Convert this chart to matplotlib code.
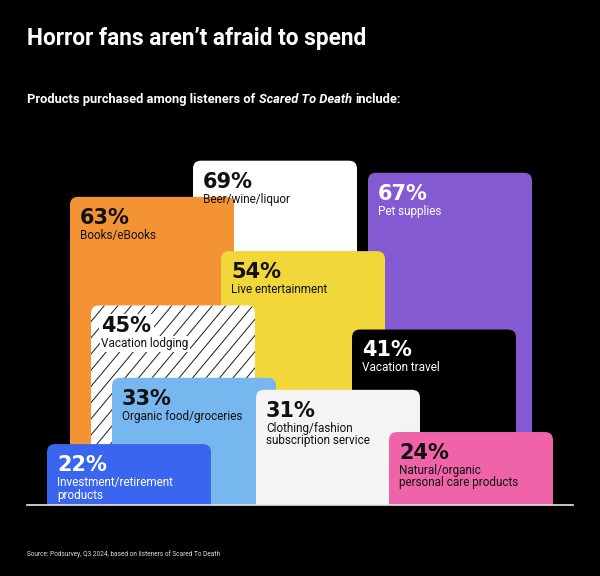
import matplotlib
matplotlib.use("Agg")
import matplotlib.pyplot as plt
from matplotlib.patches import FancyBboxPatch
from matplotlib import font_manager as fm

# ---------------- data ----------------
categories = [
    "Beer/wine/liquor",
    "Pet supplies",
    "Books/eBooks",
    "Live entertainment",
    "Vacation lodging",
    "Vacation travel",
    "Organic food/groceries",
    "Clothing/fashion\nsubscription service",
    "Natural/organic\npersonal care products",
    "Investment/retirement\nproducts",
]
values = [69, 67, 63, 54, 45, 41, 33, 31, 24, 22]

title = "Horror fans aren\u2019t afraid to spend"
subtitle_parts = ["Products purchased among listeners of", "Scared To Death", "include:"]
source = "Source: Podsurvey, Q3 2024, based on listeners of Scared To Death"

# ---------------- style / layout ----------------
fill_colors = ["#ffffff", "#845ad2", "#f39333", "#f2d73a", "#ffffff",
               "#000000", "#77b7ef", "#f4f4f4", "#ef64a9", "#3a66ef"]
text_colors = ["#111111", "#ffffff", "#111111", "#111111", "#111111",
               "#ffffff", "#111111", "#111111", "#111111", "#ffffff"]
hatched = [False, False, False, False, True, False, False, False, False, False]
box_left_px = [193, 368, 70, 221, 91, 352, 112, 256, 389, 47]
BOX_W = 164
RADIUS = 8

W, H, DPI = 600, 576, 100
BASE_PX = 505          # baseline (y from top, px)
TOP_PX = 150           # top of plotting region
Y0 = 11.9              # value sitting on the baseline (truncated axis)
PX_PER_PCT = 6.03
Y1 = Y0 + (BASE_PX - TOP_PX) / PX_PER_PCT

names = {f.name for f in fm.fontManager.ttflist}
narrow = "Liberation Sans Narrow" if "Liberation Sans Narrow" in names else "Roboto"
body = "Roboto" if "Roboto" in names else "DejaVu Sans"
pct_font = "DejaVu Sans"

fig = plt.figure(figsize=(W / DPI, H / DPI), dpi=DPI, facecolor="black")
ax = fig.add_axes([0, (H - BASE_PX) / H, 1, (BASE_PX - TOP_PX) / H])
ax.set_xlim(0, W)
ax.set_ylim(Y0, Y1)
ax.axis("off")

order = sorted(range(len(values)), key=lambda k: -values[k])
for rank, i in enumerate(order):
    z = 2 + rank * 2
    left = box_left_px[i]
    top = values[i]
    patch = FancyBboxPatch((left, 0), BOX_W, top,
                           boxstyle=f"round,pad=0,rounding_size={RADIUS}",
                           mutation_aspect=1 / PX_PER_PCT,
                           facecolor=fill_colors[i], edgecolor="none", zorder=z)
    ax.add_patch(patch)
    bbox = None
    if hatched[i]:
        h_px = (top - Y0) * PX_PER_PCT
        slope = 1.2
        step = 13.5
        x = left - h_px / slope
        while x < left + BOX_W:
            ln, = ax.plot([x, x + h_px / slope], [Y0, top], color="#1a1a1a",
                          lw=0.7, zorder=z + 0.1, solid_capstyle="butt")
            ln.set_clip_path(patch)
            x += step
        bbox = dict(boxstyle="square,pad=0.12", fc=fill_colors[i], ec="none")
    ax.annotate(f"{values[i]}%", xy=(left, top), xytext=(7.2, -19.4),
                textcoords="offset points", ha="left", va="baseline",
                fontsize=15, fontweight="bold", family=pct_font,
                color=text_colors[i], zorder=100, bbox=bbox)
    for j, line in enumerate(categories[i].split("\n")):
        ax.annotate(line, xy=(left, top), xytext=(7.2, -30.2 - 9.0 * j),
                    textcoords="offset points", ha="left", va="baseline",
                    fontsize=8.5, family=body, color=text_colors[i],
                    zorder=100, bbox=bbox)

# baseline rule
ax.plot([27, 573], [Y0, Y0], color="#e6e6e6", lw=1.2, clip_on=False, zorder=50)

# titles
fig.text(27 / W, 1 - 45 / H, title, color="white", fontsize=16.3,
         fontweight="bold", family=narrow, ha="left", va="baseline")
SUB = 9.3
t1 = fig.text(27 / W, 1 - 103 / H, subtitle_parts[0], color="white",
              fontsize=SUB, fontweight="bold", family=narrow,
              ha="left", va="baseline")
t2 = ax.annotate(subtitle_parts[1], xy=(1, 0), xycoords=t1, xytext=(2.5, 0),
                 textcoords="offset points", ha="left", va="bottom",
                 color="white", fontsize=SUB, fontweight="bold",
                 fontstyle="italic", family=narrow, annotation_clip=False)
ax.annotate(subtitle_parts[2], xy=(1, 0), xycoords=t2, xytext=(2.5, 0),
            textcoords="offset points", ha="left", va="bottom",
            color="white", fontsize=SUB, fontweight="bold",
            family=narrow, annotation_clip=False)
fig.text(27 / W, 1 - 556 / H, source, color="#dddddd", fontsize=4.7,
         family=narrow, ha="left", va="baseline")

fig.savefig("out.png", dpi=DPI, facecolor="black")
